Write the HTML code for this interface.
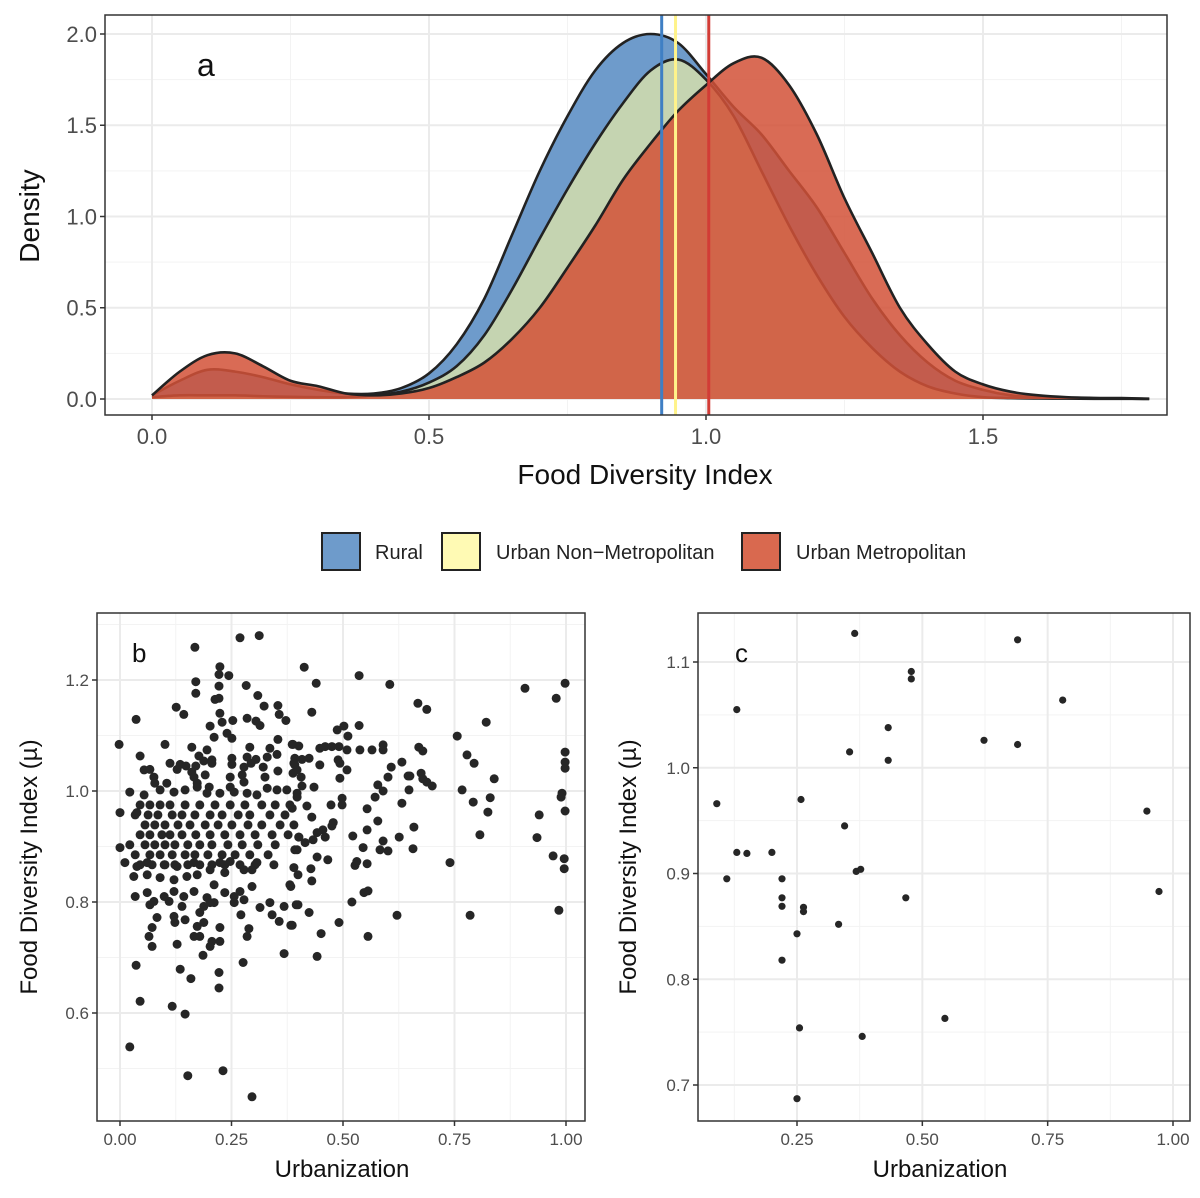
<!DOCTYPE html>
<html><head><meta charset="utf-8">
<style>
html,body{margin:0;padding:0;background:#fff;}
svg{display:block;font-family:"Liberation Sans",Arial,sans-serif;}
</style></head>
<body>
<svg id="fig" width="1200" height="1198" viewBox="0 0 1200 1198" xmlns="http://www.w3.org/2000/svg">
  <rect x="0" y="0" width="1200" height="1198" fill="#fff"/>
  <g id="pa"></g>
  <g id="pb"></g>
  <g id="pc"></g>
  <g id="legend">
    <g>
      <rect x="322" y="533" width="38" height="37" fill="#6e9bcb" stroke="#222" stroke-width="2"/>
      <text x="375" y="559" font-size="20" fill="#222">Rural</text>
    </g>
    <g>
      <rect x="442" y="533" width="38" height="37" fill="#fffab4" stroke="#222" stroke-width="2"/>
      <text x="496" y="559" font-size="20" fill="#222">Urban Non−Metropolitan</text>
    </g>
    <g>
      <rect x="742" y="533" width="38" height="37" fill="#d9694f" stroke="#222" stroke-width="2"/>
      <text x="796" y="559" font-size="20" fill="#222">Urban Metropolitan</text>
    </g>
  </g>
</svg>
<script>
// ---------- Panel a data ----------
const densX = [0,0.05,0.1,0.15,0.2,0.25,0.3,0.35,0.4,0.45,0.5,0.55,0.6,0.65,0.7,0.75,0.8,0.85,0.9,0.95,1.0,1.05,1.1,1.15,1.2,1.25,1.3,1.35,1.4,1.45,1.5,1.55,1.6,1.65,1.7,1.75,1.8];
const ruralDensity = [0.02,0.1,0.16,0.15,0.12,0.08,0.05,0.03,0.03,0.06,0.14,0.3,0.55,0.9,1.25,1.55,1.8,1.95,2.0,1.95,1.78,1.6,1.45,1.25,1.05,0.8,0.55,0.35,0.2,0.1,0.05,0.02,0.01,0.005,0.003,0.002,0.001];
const nonMetroDensity = [0.01,0.02,0.02,0.02,0.015,0.012,0.01,0.01,0.02,0.04,0.09,0.18,0.35,0.6,0.88,1.15,1.4,1.62,1.8,1.86,1.75,1.55,1.25,0.95,0.68,0.45,0.28,0.15,0.07,0.03,0.01,0.005,0.003,0.002,0.001,0.001,0];
const metroDensity = [0.02,0.15,0.24,0.25,0.18,0.1,0.07,0.03,0.02,0.03,0.06,0.12,0.2,0.33,0.5,0.72,0.95,1.2,1.4,1.58,1.72,1.84,1.87,1.72,1.45,1.1,0.8,0.5,0.3,0.15,0.08,0.04,0.02,0.01,0.006,0.005,0.002];
const groupMeans = [0.92,0.945,1.005];
const aXTicks = [0,0.5,1.0,1.5];
const aXTickLabels = ["0.0","0.5","1.0","1.5"];
const aYTicks = [0,0.5,1.0,1.5,2.0];
const aYTickLabels = ["0.0","0.5","1.0","1.5","2.0"];

// ---------- Panel b data ----------
const bUrban = [
.413,.44,.536,.605,.908,.998,.978,.668,.688,.821,.43,.756,.778,.794,.839,.767,.792,.83,.825,.807,.74,.785,.94,.935,.971,.996,.996,.984,.998,.998,.998,.991,.989,.998,
.67,.679,.675,.679,.688,.70,.632,.646,.65,.608,.601,.648,.632,.659,.626,.657,.621,.578,.59,.572,.554,.578,.554,.59,.583,.601,.545,.554,.531,.527,.547,.556,.52,.556,.491,.451,.442,
.487,.502,.511,.536,.448,.46,.475,.491,.509,.538,.565,.59,.59,.489,.493,.509,.493,.448,.498,.498,.473,.478,.475,.522,.455,.46,.442,.433,.415,.401,.442,.466,.428,.43,.424,.399,.386,
.388,.401,.392,.408,.424,.392,.388,.406,.408,.435,.397,.386,.419,.43,.39,.401,.392,.397,.39,.399,.383,
.269,.312,.168,.224,.222,.244,.17,.17,.222,.283,.213,.222,.309,.323,.354,.126,.143,.036,.224,.229,.202,.253,.285,.305,.314,.357,.372,.211,.24,.251,.354,.386,-.002,.101,.045,
.161,.177,.195,.206,.291,.285,.251,.336,.352,.33,.305,
.054,.067,.112,.128,.135,.148,.17,.188,.206,.251,.278,.294,.321,.354,.39,.397,
.076,.161,.166,.191,.247,.274,.325,.278,.247,.078,.105,.173,.2,
.022,.054,.09,.121,.146,.173,.195,.224,.256,.285,.307,.33,.352,.374,.397,0,.038,
.045,.067,.09,.112,.146,.179,.213,.247,.280,.318,.348,.381,
.034,.063,.085,.117,.139,.168,.202,.229,.265,.291,.336,.37,
.056,.078,.101,.13,.157,.191,.22,.251,.287,.318,.359,
.045,.067,.094,.112,.139,.170,.202,.235,.269,.303,.341,.377,
.022,.056,.078,.101,.123,.152,.179,.206,.242,.274,.309,.348,
.034,.067,.09,.117,.146,.168,.197,.229,.258,.291,.332,
.045,.072,.101,.123,.152,.179,.206,.235,.269,.303,0,
.038,.061,.099,.128,.166,.202,.224,.247,.011,.031,.061,.09,.121,.15,.173,.211,.235,.278,.296,.307,.345,
.034,.061,.076,.099,.121,.143,.166,.195,.211,.235,.256,.269,.278,.296,.256,.314,.336,.341,.357,.368,.381,.383,.395,
.067,.11,.139,.188,.202,.083,.121,.146,.179,.188,.173,.072,.065,.123,.166,.179,.224,.224,.206,.202,.289,.285,.271,
.072,.128,.186,.036,.135,.159,.222,.222,.276,.368,.045,.117,.146,.022,.152,.231,.296];
const bFDI = [
1.223,1.194,1.208,1.192,1.185,1.194,1.167,1.158,1.147,1.124,1.142,1.099,1.065,1.05,1.022,1.002,.98,.988,.962,.921,.871,.776,.957,.916,.883,.878,.86,.785,1.07,1.052,1.041,.996,.989,.964,
1.079,1.072,1.032,1.022,1.016,1.009,1.052,1.027,1.027,1.043,1.025,1.002,.978,.935,.917,.896,.776,1.011,1.0,.989,.968,.946,.93,.91,.894,.892,.898,.869,.873,.866,.817,.82,.80,.738,.763,.743,.702,
1.11,1.117,1.099,1.118,1.077,1.08,1.08,1.08,1.074,1.074,1.074,1.083,1.074,1.056,1.05,1.038,1.023,1.047,.987,.975,.975,.943,.937,.919,.93,.917,.925,.912,.907,.917,.881,.876,.86,.838,.781,.795,.758,
1.084,1.081,1.059,1.057,1.059,1.047,1.032,1.025,1.009,1.007,.996,.969,.973,.953,.939,.917,.894,.894,.862,.849,.828,
1.276,1.28,1.259,1.224,1.21,1.208,1.197,1.176,1.189,1.19,1.165,1.167,1.172,1.153,1.154,1.151,1.138,1.129,1.14,1.124,1.117,1.127,1.131,1.126,1.118,1.138,1.127,1.097,1.104,1.095,1.093,1.084,1.084,1.084,1.063,
1.079,1.063,1.074,1.056,1.079,1.061,1.059,1.077,1.066,1.061,1.057,
1.038,1.039,1.05,1.039,1.048,1.045,1.045,1.054,1.05,1.048,1.043,1.05,1.043,1.036,1.05,1.038,
1.025,1.034,1.025,1.029,1.025,1.029,1.025,1.016,1.007,1.014,1.014,1.014,1.007,
.998,.993,1.002,.998,1.002,1.007,.996,.996,.998,.996,.993,1.005,1.002,1.002,.989,.961,.961,
.975,.975,.975,.975,.975,.975,.975,.975,.975,.975,.975,.975,
.957,.957,.957,.957,.957,.957,.957,.957,.957,.957,.957,.957,
.939,.939,.939,.939,.939,.939,.939,.939,.939,.939,.939,
.921,.921,.921,.921,.921,.921,.921,.921,.921,.921,.921,.921,
.903,.903,.903,.903,.903,.903,.903,.903,.903,.903,.903,.903,
.885,.885,.885,.885,.885,.885,.885,.885,.885,.885,.885,
.867,.867,.867,.867,.867,.867,.867,.867,.867,.867,.898,
.864,.871,.867,.864,.871,.858,.871,.873,.871,.846,.849,.844,.84,.846,.849,.831,.853,.858,.858,.871,.867,
.81,.817,.801,.81,.819,.81,.819,.808,.799,.817,.81,.819,.804,.828,.799,.79,.799,.777,.765,.792,.831,.758,.795,
.795,.801,.792,.792,.799,.772,.774,.768,.781,.763,.756,.754,.738,.763,.738,.738,.754,.729,.729,.72,.752,.738,.777,
.72,.724,.704,.686,.679,.662,.673,.645,.691,.707,.621,.612,.598,.539,.487,.496,.449];
const bXTicks = [0,0.25,0.5,0.75,1.0];
const bXTickLabels = ["0.00","0.25","0.50","0.75","1.00"];
const bYTicks = [0.6,0.8,1.0,1.2];
const bYTickLabels = ["0.6","0.8","1.0","1.2"];

// ---------- Panel c data ----------
const cUrban = [0.09,0.11,0.13,0.13,0.15,0.2,0.22,0.22,0.22,0.22,0.25,0.25,0.255,0.258,0.263,0.263,0.333,0.345,0.355,0.365,0.368,0.377,0.38,0.432,0.432,0.467,0.478,0.478,0.545,0.623,0.69,0.69,0.78,0.948,0.972];
const cFDI = [0.966,0.895,1.055,0.920,0.919,0.920,0.895,0.877,0.869,0.818,0.843,0.687,0.754,0.970,0.868,0.864,0.852,0.945,1.015,1.127,0.902,0.904,0.746,1.038,1.007,0.877,1.091,1.084,0.763,1.026,1.121,1.022,1.064,0.959,0.883];
const cXTicks = [0.25,0.5,0.75,1.0];
const cXTickLabels = ["0.25","0.50","0.75","1.00"];
const cYTicks = [0.7,0.8,0.9,1.0,1.1];
const cYTickLabels = ["0.7","0.8","0.9","1.0","1.1"];

const NS = "http://www.w3.org/2000/svg";
function mk(parent, tag, attrs, text) {
  const e = document.createElementNS(NS, tag);
  for (const k in attrs) e.setAttribute(k, attrs[k]);
  if (text !== undefined) e.textContent = text;
  parent.appendChild(e);
  return e;
}
function lin(d0, d1, r0, r1) { return v => r0 + (v - d0) / (d1 - d0) * (r1 - r0); }

function gridAndFrame(g, box, xs, ys, xMaj, xMin, yMaj, yMin) {
  mk(g, "rect", {x: box.l, y: box.t, width: box.r - box.l, height: box.b - box.t, fill: "#fff"});
  xMin.forEach(v => { const l = mk(g, "line", {x1: xs(v), x2: xs(v), y1: box.t, y2: box.b, stroke: "#f3f3f3", "stroke-width": 1});
    
     });
  yMin.forEach(v => { const l = mk(g, "line", {x1: box.l, x2: box.r, y1: ys(v), y2: ys(v), stroke: "#f3f3f3", "stroke-width": 1});
    
     });
  xMaj.forEach(v => { const l = mk(g, "line", {x1: xs(v), x2: xs(v), y1: box.t, y2: box.b, stroke: "#ebebeb", "stroke-width": 2});
    
     });
  yMaj.forEach(v => { const l = mk(g, "line", {x1: box.l, x2: box.r, y1: ys(v), y2: ys(v), stroke: "#ebebeb", "stroke-width": 2});
    
     });
}
function frame(g, box) {
  const f = mk(g, "rect", {x: box.l, y: box.t, width: box.r - box.l, height: box.b - box.t, fill: "none", stroke: "#333", "stroke-width": 1.5});
  
  
}
function axes(g, box, xs, ys, xT, xL, yT, yL, fs) {
  xT.forEach((v, i) => {
    mk(g, "line", {x1: xs(v), x2: xs(v), y1: box.b, y2: box.b + 5, stroke: "#333", "stroke-width": 1.5});
    const t = mk(g, "text", {x: xs(v), y: box.b + 7 + fs, "text-anchor": "middle", "font-size": fs, fill: "#4d4d4d"}, xL[i]);
    
    
  });
  yT.forEach((v, i) => {
    mk(g, "line", {x1: box.l - 5, x2: box.l, y1: ys(v), y2: ys(v), stroke: "#333", "stroke-width": 1.5});
    const t = mk(g, "text", {x: box.l - 8, y: ys(v) + fs * 0.36, "text-anchor": "end", "font-size": fs, fill: "#4d4d4d"}, yL[i]);
    
    
  });
}
function smoothPath(pts) {
  let d = "M" + pts[0][0] + "," + pts[0][1];
  for (let i = 0; i < pts.length - 1; i++) {
    const p0 = pts[Math.max(0, i - 1)], p1 = pts[i], p2 = pts[i + 1], p3 = pts[Math.min(pts.length - 1, i + 2)];
    const c1 = [p1[0] + (p2[0] - p0[0]) / 6, p1[1] + (p2[1] - p0[1]) / 6];
    const c2 = [p2[0] - (p3[0] - p1[0]) / 6, p2[1] - (p3[1] - p1[1]) / 6];
    d += " C" + c1[0].toFixed(2) + "," + c1[1].toFixed(2) + " " + c2[0].toFixed(2) + "," + c2[1].toFixed(2) + " " + p2[0].toFixed(2) + "," + p2[1].toFixed(2);
  }
  return d;
}

// ---------- Panel a ----------
(function () {
  const g = document.getElementById("pa");
  const box = {l: 105, r: 1167, t: 15, b: 415};
  const xs = lin(0, 1, 152, 706), ys = lin(0, 2, 399, 34);
  gridAndFrame(g, box, xs, ys, aXTicks, [0.25, 0.75, 1.25, 1.75], aYTicks, [0.25, 0.75, 1.25, 1.75]);
  const series = [
    {vals: ruralDensity, fill: "rgb(110,155,203)", op: 1, name: "density-rural"},
    {vals: nonMetroDensity, fill: "rgb(255,250,160)", op: 0.6, name: "density-urban-non-metropolitan"},
    {vals: metroDensity, fill: "rgb(210,81,55)", op: 0.85, name: "density-urban-metropolitan"}
  ];
  series.forEach(s => {
    const pts = densX.map((x, i) => [xs(x), ys(s.vals[i])]);
    const top = smoothPath(pts);
    const area = top + " L" + xs(densX[densX.length - 1]) + "," + ys(0) + " L" + xs(densX[0]) + "," + ys(0) + " Z";
    const a = mk(g, "path", {d: area, fill: s.fill, "fill-opacity": s.op, stroke: "none"});
    
    
    const l = mk(g, "path", {d: top, fill: "none", stroke: "#222", "stroke-width": 2.6});
    
    
  });
  const meanColors = ["#3f7fc4", "#fff38a", "#d23c36"];
  const meanNames = ["mean-line-rural", "mean-line-urban-non-metropolitan", "mean-line-urban-metropolitan"];
  groupMeans.forEach((m, i) => {
    const l = mk(g, "line", {x1: xs(m), x2: xs(m), y1: box.t, y2: box.b, stroke: meanColors[i], "stroke-width": 3});
    
    
  });
  frame(g, box);
  axes(g, box, xs, ys, aXTicks, aXTickLabels, aYTicks, aYTickLabels, 22);
  const xt = mk(g, "text", {x: 645, y: 484, "text-anchor": "middle", "font-size": 28, fill: "#111"}, "Food Diversity Index");
  
  
  const yt = mk(g, "text", {x: 0, y: 0, transform: "translate(39,216) rotate(-90)", "text-anchor": "middle", "font-size": 28, fill: "#111"}, "Density");
  
  
  const pl = mk(g, "text", {x: 197, y: 76, "font-size": 32, fill: "#111"}, "a");
  
  
})();

// ---------- Scatter panels ----------
function scatter(gid, box, xs, ys, xv, yv, xMaj, xMin, yMaj, yMin, xT, xL, yT, yL, r, label, lx, ly, titleX, titleY) {
  const g = document.getElementById(gid);
  gridAndFrame(g, box, xs, ys, xMaj, xMin, yMaj, yMin);
  xv.forEach((x, i) => {
    const c = mk(g, "circle", {cx: xs(x).toFixed(1), cy: ys(yv[i]).toFixed(1), r: r, fill: "#262626"});
    
    
  });
  frame(g, box);
  axes(g, box, xs, ys, xT, xL, yT, yL, 17);
  const xt = mk(g, "text", {x: titleX, y: 1177, "text-anchor": "middle", "font-size": 24, fill: "#111"}, "Urbanization");
  
  
  const yt = mk(g, "text", {x: 0, y: 0, transform: "translate(" + titleY + ",867) rotate(-90)", "text-anchor": "middle", "font-size": 24, fill: "#111"}, "Food Diversity Index (µ)");
  
  
  const pl = mk(g, "text", {x: lx, y: ly, "font-size": 26, fill: "#111"}, label);
  
  
}
scatter("pb", {l: 97, r: 585, t: 613, b: 1121}, lin(0, 1, 120, 566), lin(1.0, 1.2, 791, 680),
  bUrban, bFDI, bXTicks, [0.125, 0.375, 0.625, 0.875], bYTicks, [0.5, 0.7, 0.9, 1.1, 1.3],
  bXTicks, bXTickLabels, bYTicks, bYTickLabels, 4.5, "b", 132, 662, 342, 37);
scatter("pc", {l: 698, r: 1190, t: 613, b: 1121}, lin(0.25, 1, 797, 1173), lin(0.7, 1.1, 1085, 662),
  cUrban, cFDI, cXTicks, [0.125, 0.375, 0.625, 0.875], cYTicks, [0.75, 0.85, 0.95, 1.05],
  cXTicks, cXTickLabels, cYTicks, cYTickLabels, 3.6, "c", 735, 662, 940, 636);
</script>
</body></html>
